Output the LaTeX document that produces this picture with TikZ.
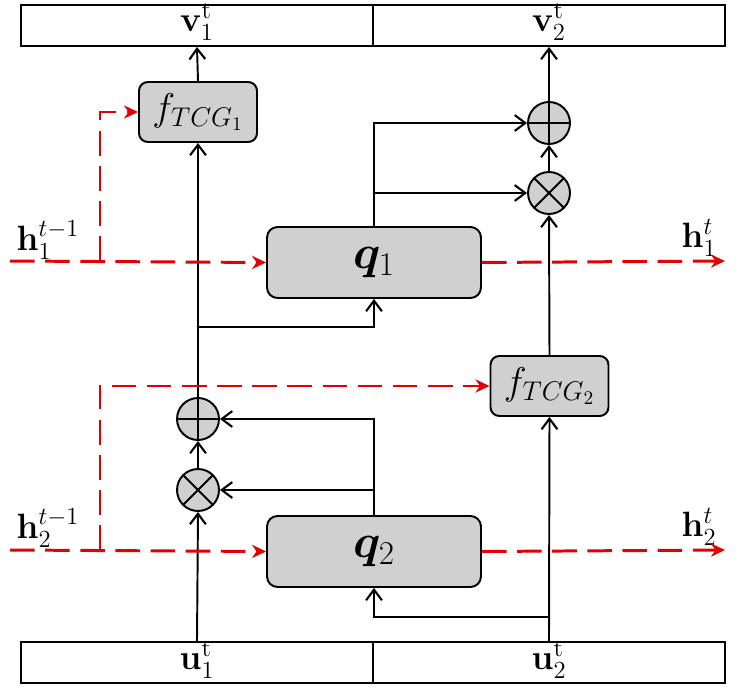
\RequirePackage{fix-cm}
\documentclass[tikz,border=0pt]{standalone}
\usepackage{amsmath,amssymb}
\usepackage{bm}
\usetikzlibrary{arrows.meta,positioning,calc}
\definecolor{boxgray}{RGB}{208,208,208}
\definecolor{hred}{RGB}{228,0,0}

\begin{document}
\begin{tikzpicture}[x=0.02cm,y=-0.02cm,
  font=\fontsize{20}{22}\selectfont,
  bar/.style={draw,line width=1.1pt,minimum width=7.04cm,minimum height=0.82cm,inner sep=0pt},
  fbox/.style={draw,line width=1.1pt,fill=boxgray,rounded corners=5pt,minimum width=2.36cm,minimum height=1.2cm,inner sep=0pt,font=\fontsize{22}{24}\selectfont},
  qbox/.style={draw,line width=1.1pt,fill=boxgray,rounded corners=6pt,minimum width=4.28cm,minimum height=1.42cm,inner sep=0pt,font=\fontsize{27}{29}\selectfont},
  opplus/.style={draw,circle,line width=1.1pt,fill=boxgray,minimum size=0.84cm,inner sep=0pt,
    path picture={\draw[line width=1.1pt] (path picture bounding box.north)--(path picture bounding box.south)
      (path picture bounding box.west)--(path picture bounding box.east);}},
  optimes/.style={draw,circle,line width=1.1pt,fill=boxgray,minimum size=0.84cm,inner sep=0pt,
    path picture={\draw[line width=1.1pt] (path picture bounding box.north west)--(path picture bounding box.south east)
      (path picture bounding box.north east)--(path picture bounding box.south west);}},
  arr/.style={line width=1.1pt,-{Straight Barb[length=6pt,width=9pt,line width=1.2pt]}},
  redline/.style={hred,line width=1.7pt,dash pattern=on 14pt off 6pt,-{Stealth[length=8pt,width=7.5pt]}}]
\useasboundingbox (0,0) rectangle (745,693);

% top and bottom bars
\node[bar] (v1) at (197,25.5) {};
\node[bar] (v2) at (549,25.5) {};
\node[bar] (u1) at (197,662.5) {};
\node[bar] (u2) at (549,662.5) {};
\node (v1t) at (197,22) {$\mathbf{v}_1^{\mathrm{t}}$};
\node (v2t) at (549,22) {$\mathbf{v}_2^{\mathrm{t}}$};
\node (u1t) at (197,660) {$\mathbf{u}_1^{\mathrm{t}}$};
\node (u2t) at (549,660) {$\mathbf{u}_2^{\mathrm{t}}$};

% blocks
\node[fbox] (f1) at (198,112) {$f_{TCG_1}$};
\node[fbox] (f2) at (549.5,386) {$f_{TCG_2}$};
\node[qbox] (q1) at (374,262.5) {$\bm{q}_1$};
\node[qbox] (q2) at (374,551.5) {$\bm{q}_2$};

% operators
\node[opplus] (plus1) at (549,123) {};
\node[optimes] (times1) at (549,193) {};
\node[opplus] (plus2) at (198,419) {};
\node[optimes] (times2) at (198,490) {};

% hidden state labels
\node (h1a) at (48,240) {$\mathbf{h}_1^{t-1}$};
\node (h1b) at (699,238) {$\mathbf{h}_1^{t}$};
\node (h2a) at (48,528) {$\mathbf{h}_2^{t-1}$};
\node (h2b) at (699,527) {$\mathbf{h}_2^{t}$};

\coordinate (br1) at (198,327);
\coordinate (br2) at (549,617);
\coordinate (s1) at (100,261);
\coordinate (s2) at (100,550);
\coordinate (in1) at (10,261);
\coordinate (in2) at (10,550);
\coordinate (out1) at (725,261);
\coordinate (out2) at (725,550);

% left column
\draw[arr] (u1.north) -- (times2.south);
\draw[arr] (times2.north) -- (plus2.south);
\draw[arr] (plus2.north) -- (f1.south);
\draw[arr] (f1.north) -- (v1.south);
\draw[arr] (br1) -| (q1.south);

% right column
\draw[arr] (u2.north) -- (f2.south);
\draw[arr] (f2.north) -- (times1.south);
\draw[arr] (times1.north) -- (plus1.south);
\draw[arr] (plus1.north) -- (v2.south);
\draw[arr] (br2) -| (q2.south);

% outputs of q
\draw[arr] (q1.north) |- (plus1.west);
\draw[arr] (q1.north) |- (times1.west);
\draw[arr] (q2.north) |- (plus2.east);
\draw[arr] (q2.north) |- (times2.east);

% hidden states
\draw[redline] (in1) -- (q1.west);
\draw[redline] (s1) |- (f1.west);
\draw[redline] (q1.east) -- (out1);
\draw[redline] (in2) -- (q2.west);
\draw[redline] (s2) |- (f2.west);
\draw[redline] (q2.east) -- (out2);
\end{tikzpicture}
\end{document}
